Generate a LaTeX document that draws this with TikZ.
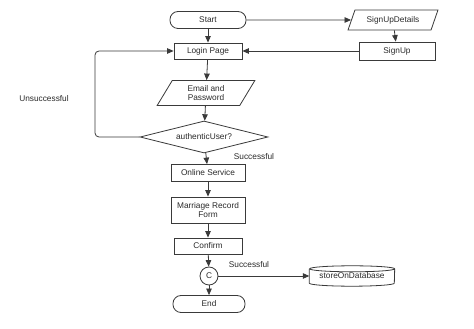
\documentclass[tikz,border=0pt]{standalone}
\usepackage{fontspec}
\setmainfont{Liberation Sans}
\usetikzlibrary{shapes.geometric,arrows.meta}
\definecolor{ln}{HTML}{3A3A3A}
\definecolor{tx}{HTML}{2A2A2A}
\begin{document}
\begin{tikzpicture}[x=1pt,y=1pt,
  every node/.style={font=\fontsize{8.3}{9}\selectfont, text=tx},
  box/.style={draw=ln, line width=0.8pt, minimum width=68pt, minimum height=16pt, inner sep=1pt, align=center},
  term/.style={box, rounded corners=8pt, minimum width=76pt, minimum height=17pt},
  io/.style={draw=ln, line width=0.8pt, trapezium, trapezium left angle=63, trapezium right angle=117, trapezium stretches=true, inner sep=1pt, align=center},
  conn/.style={draw=ln, line width=0.8pt, -{Triangle[length=6.5pt,width=5.5pt]}},
  lbl/.style={inner sep=0pt}
]
\fill[white] (0,0) rectangle (474,329);
\useasboundingbox (0,0) rectangle (474,329);

\node[term] (start) at (208,309) {Start};
\node[io, minimum width=90pt, minimum height=20pt] (sud) at (393,309) {SignUpDetails};
\node[box, minimum width=76pt, minimum height=18pt] (signup) at (397,278) {SignUp};
\node[box] (login) at (208,278) {Login Page};
\node[io, minimum width=98pt, minimum height=25pt] (email) at (206,236) {Email and\\Password};
\node[diamond, draw=ln, line width=0.8pt, inner sep=0pt, aspect=4, minimum width=128pt, minimum height=32pt] (auth) at (204,192) {authenticUser?};
\node[box, minimum width=74pt, minimum height=17pt] (online) at (208,156) {Online Service};
\node[box, minimum width=74pt, minimum height=26pt] (marriage) at (208,119) {Marriage Record\\Form};
\node[box] (confirm) at (208,83) {Confirm};
\node[circle, draw=ln, line width=0.8pt, minimum size=18pt, inner sep=0pt] (c) at (209,53) {C};
\node[term, minimum width=72pt] (end) at (209,25) {End};
\node[minimum width=85pt, minimum height=20pt, inner sep=0pt] (store) at (352,53) {storeOnDatabase};
\draw[draw=ln, line width=0.8pt] ([yshift=-3pt]store.north west) -- ([yshift=3pt]store.south west)
  arc[start angle=180, end angle=360, x radius=42.5pt, y radius=3pt]
  -- ([yshift=-3pt]store.north east)
  arc[start angle=0, end angle=360, x radius=42.5pt, y radius=3pt];

\coordinate (loopc) at (95,192);

\draw[conn] (start) -- (login);
\draw[conn] (start.east) -- (sud.west);
\draw[conn] (sud) -- (signup);
\draw[conn] (signup.west) -- (login.east);
\draw[conn] (login) -- (email);
\draw[conn] (email) -- (auth);
\draw[conn, rounded corners=4pt] (auth.west) -- (loopc) |- (login.west);
\draw[conn] (auth) -- (online);
\draw[conn] (online) -- (marriage);
\draw[conn] (marriage) -- (confirm);
\draw[conn] (confirm) -- (c);
\draw[conn] (c) -- (end);
\draw[conn] (c.east) -- (store.west);

\node[lbl] (unsucc) at (44,230) {Unsuccessful};
\node[lbl] (succ1) at (254,172) {Successful};
\node[lbl] (succ2) at (249,64) {Successful};
\end{tikzpicture}
\end{document}
